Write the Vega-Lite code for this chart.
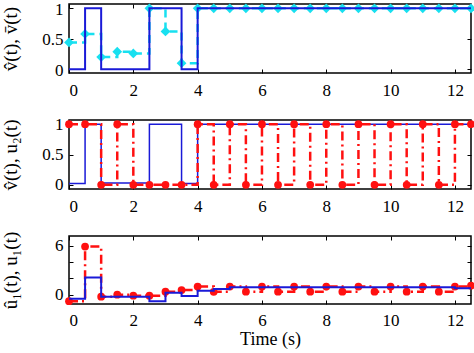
{
  "$schema": "https://vega.github.io/schema/vega-lite/v6.json",
  "padding": {"left": 0, "top": -1, "right": 0, "bottom": 0},
  "background": "white",
  "bounds": "flush",
  "spacing": 47,
  "datasets": {
    "p1blue": [
      {"t": 0, "v": 0}, {"t": 0.5, "v": 1}, {"t": 1, "v": 0}, {"t": 2.5, "v": 1},
      {"t": 3.5, "v": 0}, {"t": 4, "v": 1}, {"t": 12.5, "v": 1}
    ],
    "p1cyan": [
      {"t": 0, "v": 0.44}, {"t": 0.5, "v": 0.58}, {"t": 1, "v": 0.2}, {"t": 1.5, "v": 0.29},
      {"t": 2, "v": 0.26}, {"t": 2.5, "v": 1}, {"t": 3, "v": 0.62}, {"t": 3.5, "v": 0.1},
      {"t": 4, "v": 1}, {"t": 4.5, "v": 1}, {"t": 5, "v": 1}, {"t": 5.5, "v": 1},
      {"t": 6, "v": 1}, {"t": 6.5, "v": 1}, {"t": 7, "v": 1}, {"t": 7.5, "v": 1},
      {"t": 8, "v": 1}, {"t": 8.5, "v": 1}, {"t": 9, "v": 1}, {"t": 9.5, "v": 1},
      {"t": 10, "v": 1}, {"t": 10.5, "v": 1}, {"t": 11, "v": 1}, {"t": 11.5, "v": 1},
      {"t": 12, "v": 1}, {"t": 12.5, "v": 1}
    ],
    "p2blue": [
      {"t": 0, "v": 0.02}, {"t": 0.5, "v": 1}, {"t": 1, "v": 0.03}, {"t": 2.5, "v": 1},
      {"t": 3.5, "v": 0.02}, {"t": 4, "v": 1}, {"t": 12.5, "v": 1}
    ],
    "p2red": [
      {"t": 0, "v": 1}, {"t": 0.5, "v": 1}, {"t": 1, "v": 0}, {"t": 1.5, "v": 1},
      {"t": 2, "v": 0}, {"t": 2.5, "v": 0}, {"t": 3, "v": 0}, {"t": 3.5, "v": 0},
      {"t": 4, "v": 1}, {"t": 4.5, "v": 0}, {"t": 5, "v": 1}, {"t": 5.5, "v": 0},
      {"t": 6, "v": 1}, {"t": 6.5, "v": 0}, {"t": 7, "v": 1}, {"t": 7.5, "v": 0},
      {"t": 8, "v": 1}, {"t": 8.5, "v": 0}, {"t": 9, "v": 1}, {"t": 9.5, "v": 0},
      {"t": 10, "v": 1}, {"t": 10.5, "v": 0}, {"t": 11, "v": 1}, {"t": 11.5, "v": 0},
      {"t": 12, "v": 1}, {"t": 12.5, "v": 1}
    ],
    "p3blue": [
      {"t": 0, "v": -0.5}, {"t": 0.5, "v": 2.1}, {"t": 1, "v": -0.25}, {"t": 2.5, "v": -0.8},
      {"t": 3, "v": 0.25}, {"t": 3.5, "v": -0.15}, {"t": 4, "v": 0.5}, {"t": 4.5, "v": 0.7},
      {"t": 5, "v": 0.9}, {"t": 12, "v": 0.8}, {"t": 12.5, "v": 0.8}
    ],
    "p3red": [
      {"t": 0, "v": -0.8}, {"t": 0.5, "v": 5.9}, {"t": 1, "v": -0.25}, {"t": 1.5, "v": 0.0},
      {"t": 2, "v": -0.12}, {"t": 2.5, "v": -0.12}, {"t": 3, "v": 0.37}, {"t": 3.5, "v": 0.57},
      {"t": 4, "v": 1.0}, {"t": 4.5, "v": 0.35}, {"t": 5, "v": 1.0}, {"t": 5.5, "v": 0.37},
      {"t": 6, "v": 1.0}, {"t": 6.5, "v": 0.37}, {"t": 7, "v": 1.0}, {"t": 7.5, "v": 0.37},
      {"t": 8, "v": 1.0}, {"t": 8.5, "v": 0.37}, {"t": 9, "v": 1.0}, {"t": 9.5, "v": 0.37},
      {"t": 10, "v": 1.0}, {"t": 10.5, "v": 0.37}, {"t": 11, "v": 1.0}, {"t": 11.5, "v": 0.37},
      {"t": 12, "v": 1.0}, {"t": 12.5, "v": 1.1}
    ]
  },
  "config": {
    "view": {"stroke": "black", "strokeWidth": 1.5},
    "font": "Liberation Serif",
    "axis": {
      "grid": false, "domain": false, "tickColor": "black", "tickSize": -4, "tickWidth": 1,
      "labelFont": "Liberation Serif", "labelFontSize": 17, "labelColor": "black",
      "titleFont": "Liberation Serif", "titleFontSize": 19, "titleFontWeight": "normal", "titleColor": "black",
      "format": ".1~f"
    }
  },
  "vconcat": [
    {
      "width": 402, "height": 69,
      "resolve": {"axis": {"x": "independent", "y": "independent"}},
      "layer": [
        {
          "data": {"name": "p1cyan"},
          "mark": {"type": "line", "interpolate": "step-after", "color": "#18e0f0", "strokeWidth": 2.5, "strokeDash": [8, 5]},
          "encoding": {
            "x": {"field": "t", "type": "quantitative", "scale": {"domain": [0, 12.5], "nice": false, "zero": false},
                  "axis": {"orient": "top", "labels": false, "title": null, "values": [0, 2, 4, 6, 8, 10, 12]}},
            "y": {"field": "v", "type": "quantitative", "scale": {"domain": [-0.06, 1.07], "nice": false, "zero": false},
                  "axis": {"orient": "right", "labels": false, "title": null, "values": [0, 0.5, 1]}}
          }
        },
        {
          "data": {"name": "p1cyan"},
          "mark": {"type": "point", "shape": "diamond", "filled": true, "color": "#18e0f0", "size": 95, "opacity": 1},
          "encoding": {
            "x": {"field": "t", "type": "quantitative", "axis": null},
            "y": {"field": "v", "type": "quantitative", "axis": null}
          }
        },
        {
          "data": {"name": "p1blue"},
          "mark": {"type": "line", "interpolate": "step-after", "color": "#1a1ad8", "strokeWidth": 2},
          "encoding": {
            "x": {"field": "t", "type": "quantitative",
                  "axis": {"orient": "bottom", "title": null, "values": [0, 2, 4, 6, 8, 10, 12], "labelPadding": 13}},
            "y": {"field": "v", "type": "quantitative",
                  "axis": {"orient": "left", "title": "v̂(t), v̄(t)", "values": [0, 0.5, 1], "labelPadding": 10, "labelOffset": 1, "titleX": -49, "titleBaseline": "bottom"}}
          }
        }
      ]
    },
    {
      "width": 402, "height": 69,
      "resolve": {"axis": {"x": "independent", "y": "independent"}},
      "layer": [
        {
          "data": {"name": "p2blue"},
          "mark": {"type": "line", "interpolate": "step-after", "color": "#1a1ad8", "strokeWidth": 1.5},
          "encoding": {
            "x": {"field": "t", "type": "quantitative", "scale": {"domain": [0, 12.5], "nice": false, "zero": false},
                  "axis": {"orient": "bottom", "title": null, "values": [0, 2, 4, 6, 8, 10, 12], "labelPadding": 13}},
            "y": {"field": "v", "type": "quantitative", "scale": {"domain": [-0.07, 1.07], "nice": false, "zero": false},
                  "axis": {"orient": "left", "title": "v̂(t), u₂(t)", "values": [0, 0.5, 1], "labelPadding": 10, "titleX": -49, "titleBaseline": "bottom"}}
          }
        },
        {
          "data": {"name": "p2red"},
          "mark": {"type": "line", "interpolate": "step-after", "color": "#ff1010", "strokeWidth": 2.5, "strokeDash": [9, 4, 2, 4]},
          "encoding": {
            "x": {"field": "t", "type": "quantitative",
                  "axis": {"orient": "top", "labels": false, "title": null, "values": [0, 2, 4, 6, 8, 10, 12]}},
            "y": {"field": "v", "type": "quantitative",
                  "axis": {"orient": "right", "labels": false, "title": null, "values": [0, 0.5, 1]}}
          }
        },
        {
          "data": {"name": "p2red"},
          "mark": {"type": "circle", "color": "#ff1010", "size": 60, "opacity": 1},
          "encoding": {
            "x": {"field": "t", "type": "quantitative", "axis": null},
            "y": {"field": "v", "type": "quantitative", "axis": null}
          }
        }
      ]
    },
    {
      "width": 402, "height": 68,
      "resolve": {"axis": {"x": "independent", "y": "independent"}},
      "layer": [
        {
          "data": {"name": "p3red"},
          "mark": {"type": "line", "interpolate": "step-after", "color": "#ff1010", "strokeWidth": 2.5, "strokeDash": [9, 4, 2, 4]},
          "encoding": {
            "x": {"field": "t", "type": "quantitative", "scale": {"domain": [0, 12.5], "nice": false, "zero": false},
                  "axis": {"orient": "top", "labels": false, "title": null, "values": [0, 2, 4, 6, 8, 10, 12]}},
            "y": {"field": "v", "type": "quantitative", "scale": {"domain": [-1.14, 7.2], "nice": false, "zero": false},
                  "axis": {"orient": "right", "labels": false, "title": null, "values": [0, 2, 4, 6]}}
          }
        },
        {
          "data": {"name": "p3red"},
          "mark": {"type": "circle", "color": "#ff1010", "size": 60, "opacity": 1},
          "encoding": {
            "x": {"field": "t", "type": "quantitative", "axis": null},
            "y": {"field": "v", "type": "quantitative", "axis": null}
          }
        },
        {
          "data": {"name": "p3blue"},
          "mark": {"type": "line", "interpolate": "step-after", "color": "#1a1ad8", "strokeWidth": 2},
          "encoding": {
            "x": {"field": "t", "type": "quantitative",
                  "axis": {"orient": "bottom", "title": "Time (s)", "titlePadding": 2, "titleFontSize": 18, "values": [0, 2, 4, 6, 8, 10, 12], "labelPadding": 12}},
            "y": {"field": "v", "type": "quantitative",
                  "axis": {"orient": "left", "title": "û₁(t), u₁(t)", "values": [0, 2, 4, 6], "labelPadding": 10, "titleX": -49, "titleBaseline": "bottom"}}
          }
        }
      ]
    }
  ]
}
